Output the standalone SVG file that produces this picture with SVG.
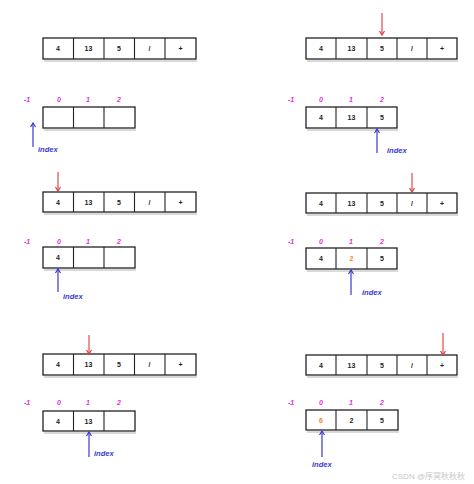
<svg xmlns="http://www.w3.org/2000/svg" width="474" height="484" viewBox="0 0 474 484">
<defs>
<marker id="ab" markerWidth="8" markerHeight="8" refX="4" refY="1" orient="0" markerUnits="userSpaceOnUse" viewBox="0 0 8 8"><path d="M1.5,5 L4,1 L6.5,5" fill="none" stroke="#3a3ad0" stroke-width="1.2"/></marker>
<marker id="ar" markerWidth="8" markerHeight="8" refX="4" refY="7" orient="0" markerUnits="userSpaceOnUse" viewBox="0 0 8 8"><path d="M1.5,3 L4,7 L6.5,3" fill="none" stroke="#e03a3a" stroke-width="1.2"/></marker>
</defs>
<style>
.box{fill:#fff;stroke:#222;stroke-width:1.3}
.sh{fill:none;stroke:#ccc;stroke-width:1.5}
.div{stroke:#222;stroke-width:1.1}
.v{font-family:"Liberation Sans",Arial,sans-serif;font-size:7px;font-weight:bold;fill:#222;text-anchor:middle}
.o{fill:#f08a1a}
.lb{font-family:"Liberation Sans",Arial,sans-serif;font-size:7px;font-weight:bold;font-style:italic;fill:#e030e0;text-anchor:middle}
.ix{font-family:"Liberation Sans",Arial,sans-serif;font-size:7.5px;font-weight:bold;font-style:italic;fill:#3a3ad0}
.ba{stroke:#3a3ad0;stroke-width:1.2;fill:none}
.ra{stroke:#e03a3a;stroke-width:1.1;fill:none}
.wm{font-family:"Liberation Sans","Noto Sans CJK SC",sans-serif;font-size:8px;fill:#c8c8c8}
</style>

<g id="expr1">
<line class="sh" x1="44" y1="61" x2="197" y2="61"/>
<rect class="box" x="43" y="38" width="153" height="21"/>
<line class="div" x1="73.5" y1="38" x2="73.5" y2="59"/><line class="div" x1="104" y1="38" x2="104" y2="59"/><line class="div" x1="134.5" y1="38" x2="134.5" y2="59"/><line class="div" x1="165" y1="38" x2="165" y2="59"/>
<text class="v" x="58" y="51">4</text><text class="v" x="88.5" y="51">13</text><text class="v" x="119" y="51">5</text><text class="v" x="149.5" y="51">/</text><text class="v" x="180.5" y="51">+</text>
</g>
<g id="stack1">
<text class="lb" x="27" y="102">-1</text><text class="lb" x="59" y="102">0</text><text class="lb" x="88" y="102">1</text><text class="lb" x="119" y="102">2</text>
<line class="sh" x1="44" y1="130" x2="136" y2="130"/>
<rect class="box" x="43" y="107" width="92" height="21"/>
<line class="div" x1="73.5" y1="107" x2="73.5" y2="128"/><line class="div" x1="104" y1="107" x2="104" y2="128"/>
<text class="ix" x="38" y="152">index</text>
</g>

<g id="expr2">
<line class="sh" x1="307" y1="61" x2="458" y2="61"/>
<rect class="box" x="306" y="38" width="151" height="21"/>
<line class="div" x1="336" y1="38" x2="336" y2="59"/><line class="div" x1="367" y1="38" x2="367" y2="59"/><line class="div" x1="397" y1="38" x2="397" y2="59"/><line class="div" x1="427" y1="38" x2="427" y2="59"/>
<text class="v" x="321" y="51">4</text><text class="v" x="351.5" y="51">13</text><text class="v" x="382" y="51">5</text><text class="v" x="412" y="51">/</text><text class="v" x="442" y="51">+</text>
</g>
<g id="stack2">
<text class="lb" x="291" y="102">-1</text><text class="lb" x="321" y="102">0</text><text class="lb" x="351" y="102">1</text><text class="lb" x="382" y="102">2</text>
<line class="sh" x1="307" y1="130" x2="398" y2="130"/>
<rect class="box" x="306" y="107" width="91" height="21"/>
<line class="div" x1="336" y1="107" x2="336" y2="128"/><line class="div" x1="367" y1="107" x2="367" y2="128"/>
<text class="v" x="321" y="120">4</text><text class="v" x="351.5" y="120">13</text><text class="v" x="382" y="120">5</text>
<text class="ix" x="387" y="153">index</text>
</g>

<g id="expr3">
<line class="sh" x1="44" y1="214" x2="197" y2="214"/>
<rect class="box" x="43" y="192" width="153" height="20"/>
<line class="div" x1="73.5" y1="192" x2="73.5" y2="212"/><line class="div" x1="104" y1="192" x2="104" y2="212"/><line class="div" x1="134.5" y1="192" x2="134.5" y2="212"/><line class="div" x1="165" y1="192" x2="165" y2="212"/>
<text class="v" x="58" y="204.5">4</text><text class="v" x="88.5" y="204.5">13</text><text class="v" x="119" y="204.5">5</text><text class="v" x="149.5" y="204.5">/</text><text class="v" x="180.5" y="204.5">+</text>
</g>
<g id="stack3">
<text class="lb" x="27" y="244">-1</text><text class="lb" x="59" y="244">0</text><text class="lb" x="88" y="244">1</text><text class="lb" x="119" y="244">2</text>
<line class="sh" x1="44" y1="270" x2="136" y2="270"/>
<rect class="box" x="43" y="247" width="92" height="21"/>
<line class="div" x1="73.5" y1="247" x2="73.5" y2="268"/><line class="div" x1="104" y1="247" x2="104" y2="268"/>
<text class="v" x="58" y="260">4</text>
<text class="ix" x="63" y="299">index</text>
</g>

<g id="expr4">
<line class="sh" x1="307" y1="215" x2="458" y2="215"/>
<rect class="box" x="306" y="193" width="151" height="20"/>
<line class="div" x1="336" y1="193" x2="336" y2="213"/><line class="div" x1="367" y1="193" x2="367" y2="213"/><line class="div" x1="397" y1="193" x2="397" y2="213"/><line class="div" x1="427" y1="193" x2="427" y2="213"/>
<text class="v" x="321" y="205.5">4</text><text class="v" x="351.5" y="205.5">13</text><text class="v" x="382" y="205.5">5</text><text class="v" x="412" y="205.5">/</text><text class="v" x="442" y="205.5">+</text>
</g>
<g id="stack4">
<text class="lb" x="291" y="244">-1</text><text class="lb" x="321" y="244">0</text><text class="lb" x="351" y="244">1</text><text class="lb" x="382" y="244">2</text>
<line class="sh" x1="307" y1="271" x2="398" y2="271"/>
<rect class="box" x="306" y="248" width="91" height="21"/>
<line class="div" x1="336" y1="248" x2="336" y2="269"/><line class="div" x1="367" y1="248" x2="367" y2="269"/>
<text class="v" x="321" y="261">4</text><text class="v o" x="351.5" y="261">2</text><text class="v" x="382" y="261">5</text>
<text class="ix" x="362" y="295">index</text>
</g>

<g id="expr5">
<line class="sh" x1="44" y1="377" x2="197" y2="377"/>
<rect class="box" x="43" y="354" width="153" height="21"/>
<line class="div" x1="73.5" y1="354" x2="73.5" y2="375"/><line class="div" x1="104" y1="354" x2="104" y2="375"/><line class="div" x1="134.5" y1="354" x2="134.5" y2="375"/><line class="div" x1="165" y1="354" x2="165" y2="375"/>
<text class="v" x="58" y="367">4</text><text class="v" x="88.5" y="367">13</text><text class="v" x="119" y="367">5</text><text class="v" x="149.5" y="367">/</text><text class="v" x="180.5" y="367">+</text>
</g>
<g id="stack5">
<text class="lb" x="27" y="405">-1</text><text class="lb" x="59" y="405">0</text><text class="lb" x="88" y="405">1</text><text class="lb" x="119" y="405">2</text>
<line class="sh" x1="44" y1="433" x2="136" y2="433"/>
<rect class="box" x="43" y="411" width="92" height="20"/>
<line class="div" x1="73.5" y1="411" x2="73.5" y2="431"/><line class="div" x1="104" y1="411" x2="104" y2="431"/>
<text class="v" x="58" y="423.5">4</text><text class="v" x="88.5" y="423.5">13</text>
<text class="ix" x="94" y="456">index</text>
</g>

<g id="expr6">
<line class="sh" x1="307" y1="377" x2="458" y2="377"/>
<rect class="box" x="306" y="355" width="151" height="20"/>
<line class="div" x1="336" y1="355" x2="336" y2="375"/><line class="div" x1="367" y1="355" x2="367" y2="375"/><line class="div" x1="397" y1="355" x2="397" y2="375"/><line class="div" x1="427" y1="355" x2="427" y2="375"/>
<text class="v" x="321" y="367.5">4</text><text class="v" x="351.5" y="367.5">13</text><text class="v" x="382" y="367.5">5</text><text class="v" x="412" y="367.5">/</text><text class="v" x="442" y="367.5">+</text>
</g>
<g id="stack6">
<text class="lb" x="291" y="405">-1</text><text class="lb" x="321" y="405">0</text><text class="lb" x="351" y="405">1</text><text class="lb" x="382" y="405">2</text>
<line class="sh" x1="307" y1="432" x2="399" y2="432"/>
<rect class="box" x="306" y="410" width="92" height="20"/>
<line class="div" x1="336" y1="410" x2="336" y2="430"/><line class="div" x1="367" y1="410" x2="367" y2="430"/>
<text class="v o" x="321" y="422.5">6</text><text class="v" x="351.5" y="422.5">2</text><text class="v" x="382" y="422.5">5</text>
<text class="ix" x="312" y="467">index</text>
</g>

<g id="connectors">
<line class="ba" x1="33" y1="147" x2="33" y2="123" marker-end="url(#ab)"/>
<line class="ra" x1="382" y1="13" x2="382" y2="35" marker-end="url(#ar)"/>
<line class="ba" x1="377" y1="153" x2="377" y2="129" marker-end="url(#ab)"/>
<line class="ra" x1="58" y1="172" x2="58" y2="191" marker-end="url(#ar)"/>
<line class="ba" x1="58" y1="292" x2="58" y2="269" marker-end="url(#ab)"/>
<line class="ra" x1="412" y1="173" x2="412" y2="192" marker-end="url(#ar)"/>
<line class="ba" x1="351" y1="295" x2="351" y2="270" marker-end="url(#ab)"/>
<line class="ra" x1="89" y1="335" x2="89" y2="354" marker-end="url(#ar)"/>
<line class="ba" x1="89" y1="457" x2="89" y2="432" marker-end="url(#ab)"/>
<line class="ra" x1="443" y1="333" x2="443" y2="355" marker-end="url(#ar)"/>
<line class="ba" x1="322" y1="457" x2="322" y2="431" marker-end="url(#ab)"/>
</g>
<text class="wm" x="392" y="479">CSDN @序冥秋秋秋</text>
</svg>
